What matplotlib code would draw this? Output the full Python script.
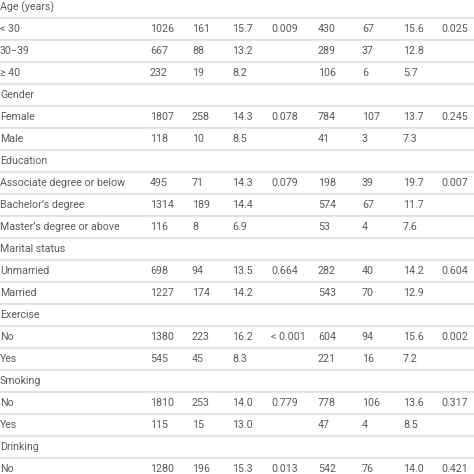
import matplotlib
matplotlib.use("Agg")
import matplotlib.pyplot as plt

labels = ["Age (years)", "< 30", "30\u221239", "\u2265 40", "Gender", "Female", "Male",
          "Education", "Associate degree or below", "Bachelor\u2019s degree", "Master\u2019s degree or above",
          "Marital status", "Unmarried", "Married", "Exercise", "No", "Yes",
          "Smoking", "No", "Yes", "Drinking", "No"]
n1 = ["", "1026", "667", "232", "", "1807", "118", "", "495", "1314", "116", "", "698", "1227", "", "1380", "545", "", "1810", "115", "", "1280"]
c1 = ["", "161", "88", "19", "", "258", "10", "", "71", "189", "8", "", "94", "174", "", "223", "45", "", "253", "15", "", "196"]
r1 = ["", "15.7", "13.2", "8.2", "", "14.3", "8.5", "", "14.3", "14.4", "6.9", "", "13.5", "14.2", "", "16.2", "8.3", "", "14.0", "13.0", "", "15.3"]
p1 = ["", "0.009", "", "", "", "0.078", "", "", "0.079", "", "", "", "0.664", "", "", "< 0.001", "", "", "0.779", "", "", "0.013"]
n2 = ["", "430", "289", "106", "", "784", "41", "", "198", "574", "53", "", "282", "543", "", "604", "221", "", "778", "47", "", "542"]
c2 = ["", "67", "37", "6", "", "107", "3", "", "39", "67", "4", "", "40", "70", "", "94", "16", "", "106", "4", "", "76"]
r2 = ["", "15.6", "12.8", "5.7", "", "13.7", "7.3", "", "19.7", "11.7", "7.6", "", "14.2", "12.9", "", "15.6", "7.2", "", "13.6", "8.5", "", "14.0"]
p2 = ["", "0.025", "", "", "", "0.245", "", "", "0.007", "", "", "", "0.604", "", "", "0.002", "", "", "0.317", "", "", "0.421"]

cols = [labels, n1, c1, r1, p1, n2, c2, r2, p2]
xs = [0, 150, 192, 232, 271, 318, 362, 403, 441]

fig = plt.figure(figsize=(4.74, 4.74), dpi=100)
ax = fig.add_axes([0, 0, 1, 1])
ax.set_xlim(0, 474)
ax.set_ylim(474, 0)
ax.axis("off")
for k in range(len(labels)):
    y = 7 + 22 * k
    for col, x in zip(cols, xs):
        if col[k]:
            ax.text(x, y, col[k], fontsize=7.7, family=["Roboto", "DejaVu Sans"],
                    color="#5a5a5a", va="center", ha="left")
    ax.axhline(y + 10.5, color="#e6e6e6", lw=1.6)
fig.savefig("out.png", dpi=100)
